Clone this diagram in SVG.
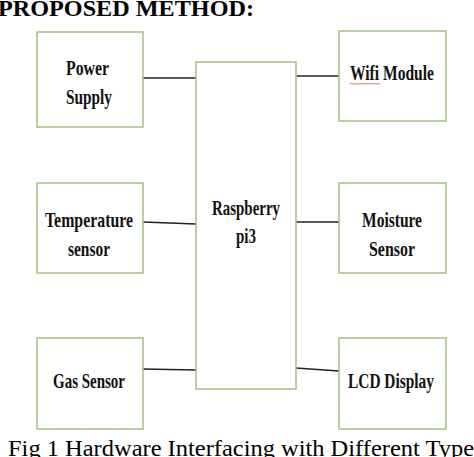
<svg xmlns="http://www.w3.org/2000/svg" width="474" height="457" viewBox="0 0 474 457">
<style>
.box{fill:#fff;stroke:#a3c27c;stroke-width:1.5}
.lbl{font-family:"Liberation Serif","Times New Roman",serif;font-weight:bold;font-size:22px;fill:#111}
.con{stroke:#222;stroke-width:1.5;fill:none}
.title{font-family:"Liberation Serif","Times New Roman",serif;font-weight:bold;font-size:24px;fill:#000}
.cap{font-family:"Liberation Serif","Times New Roman",serif;font-size:24px;fill:#000}
</style>
<rect width="474" height="457" fill="#fff"/>
<text class="title" x="-2" y="16" textLength="256" lengthAdjust="spacingAndGlyphs">PROPOSED METHOD:</text>
<g id="connectors">
<line class="con" x1="143" y1="78" x2="196" y2="78"/>
<line class="con" x1="296" y1="76" x2="339" y2="76"/>
<line class="con" x1="143" y1="222" x2="196" y2="224"/>
<line class="con" x1="296" y1="222" x2="339" y2="222"/>
<line class="con" x1="143" y1="369" x2="196" y2="370"/>
<line class="con" x1="296" y1="368" x2="339" y2="371"/>
</g>
<g id="power">
<rect class="box" x="37" y="32" width="106" height="95"/>
<text class="lbl" x="66" y="75" textLength="43" lengthAdjust="spacingAndGlyphs">Power</text>
<text class="lbl" x="66" y="104" textLength="46" lengthAdjust="spacingAndGlyphs">Supply</text>
</g>
<g id="wifi">
<rect class="box" x="339" y="31" width="107" height="90"/>
<text class="lbl" x="350" y="80" textLength="84" lengthAdjust="spacingAndGlyphs">Wifi Module</text>
<path d="M350 84.5 l1.5 -1.5 l1.5 1.5 l1.5 -1.5 l1.5 1.5 l1.5 -1.5 l1.5 1.5 l1.5 -1.5 l1.5 1.5 l1.5 -1.5 l1.5 1.5 l1.5 -1.5 l1.5 1.5 l1.5 -1.5 l1.5 1.5 l1.5 -1.5 l1.5 1.5 l1.5 -1.5 l1.5 1.5 l1.5 -1.5 l1.5 1.5" fill="none" stroke="#e03030" stroke-width="0.8"/>
</g>
<g id="raspberry">
<rect class="box" x="196" y="62" width="100" height="327"/>
<text class="lbl" x="212" y="215" textLength="68" lengthAdjust="spacingAndGlyphs">Raspberry</text>
<text class="lbl" x="236" y="243" textLength="20" lengthAdjust="spacingAndGlyphs">pi3</text>
</g>
<g id="temperature">
<rect class="box" x="37" y="183" width="106" height="90"/>
<text class="lbl" x="45" y="227" textLength="88" lengthAdjust="spacingAndGlyphs">Temperature</text>
<text class="lbl" x="68" y="256" textLength="42" lengthAdjust="spacingAndGlyphs">sensor</text>
</g>
<g id="moisture">
<rect class="box" x="339" y="183" width="107" height="90"/>
<text class="lbl" x="362" y="227" textLength="60" lengthAdjust="spacingAndGlyphs">Moisture</text>
<text class="lbl" x="369" y="256" textLength="46" lengthAdjust="spacingAndGlyphs">Sensor</text>
</g>
<g id="gas">
<rect class="box" x="37" y="338" width="106" height="91"/>
<text class="lbl" x="53" y="388" textLength="72" lengthAdjust="spacingAndGlyphs">Gas Sensor</text>
</g>
<g id="lcd">
<rect class="box" x="339" y="338" width="107" height="91"/>
<text class="lbl" x="348" y="388" textLength="86" lengthAdjust="spacingAndGlyphs">LCD Display</text>
</g>
<text class="cap" x="8" y="456" textLength="466" lengthAdjust="spacingAndGlyphs">Fig 1 Hardware Interfacing with Different Type</text>
</svg>
